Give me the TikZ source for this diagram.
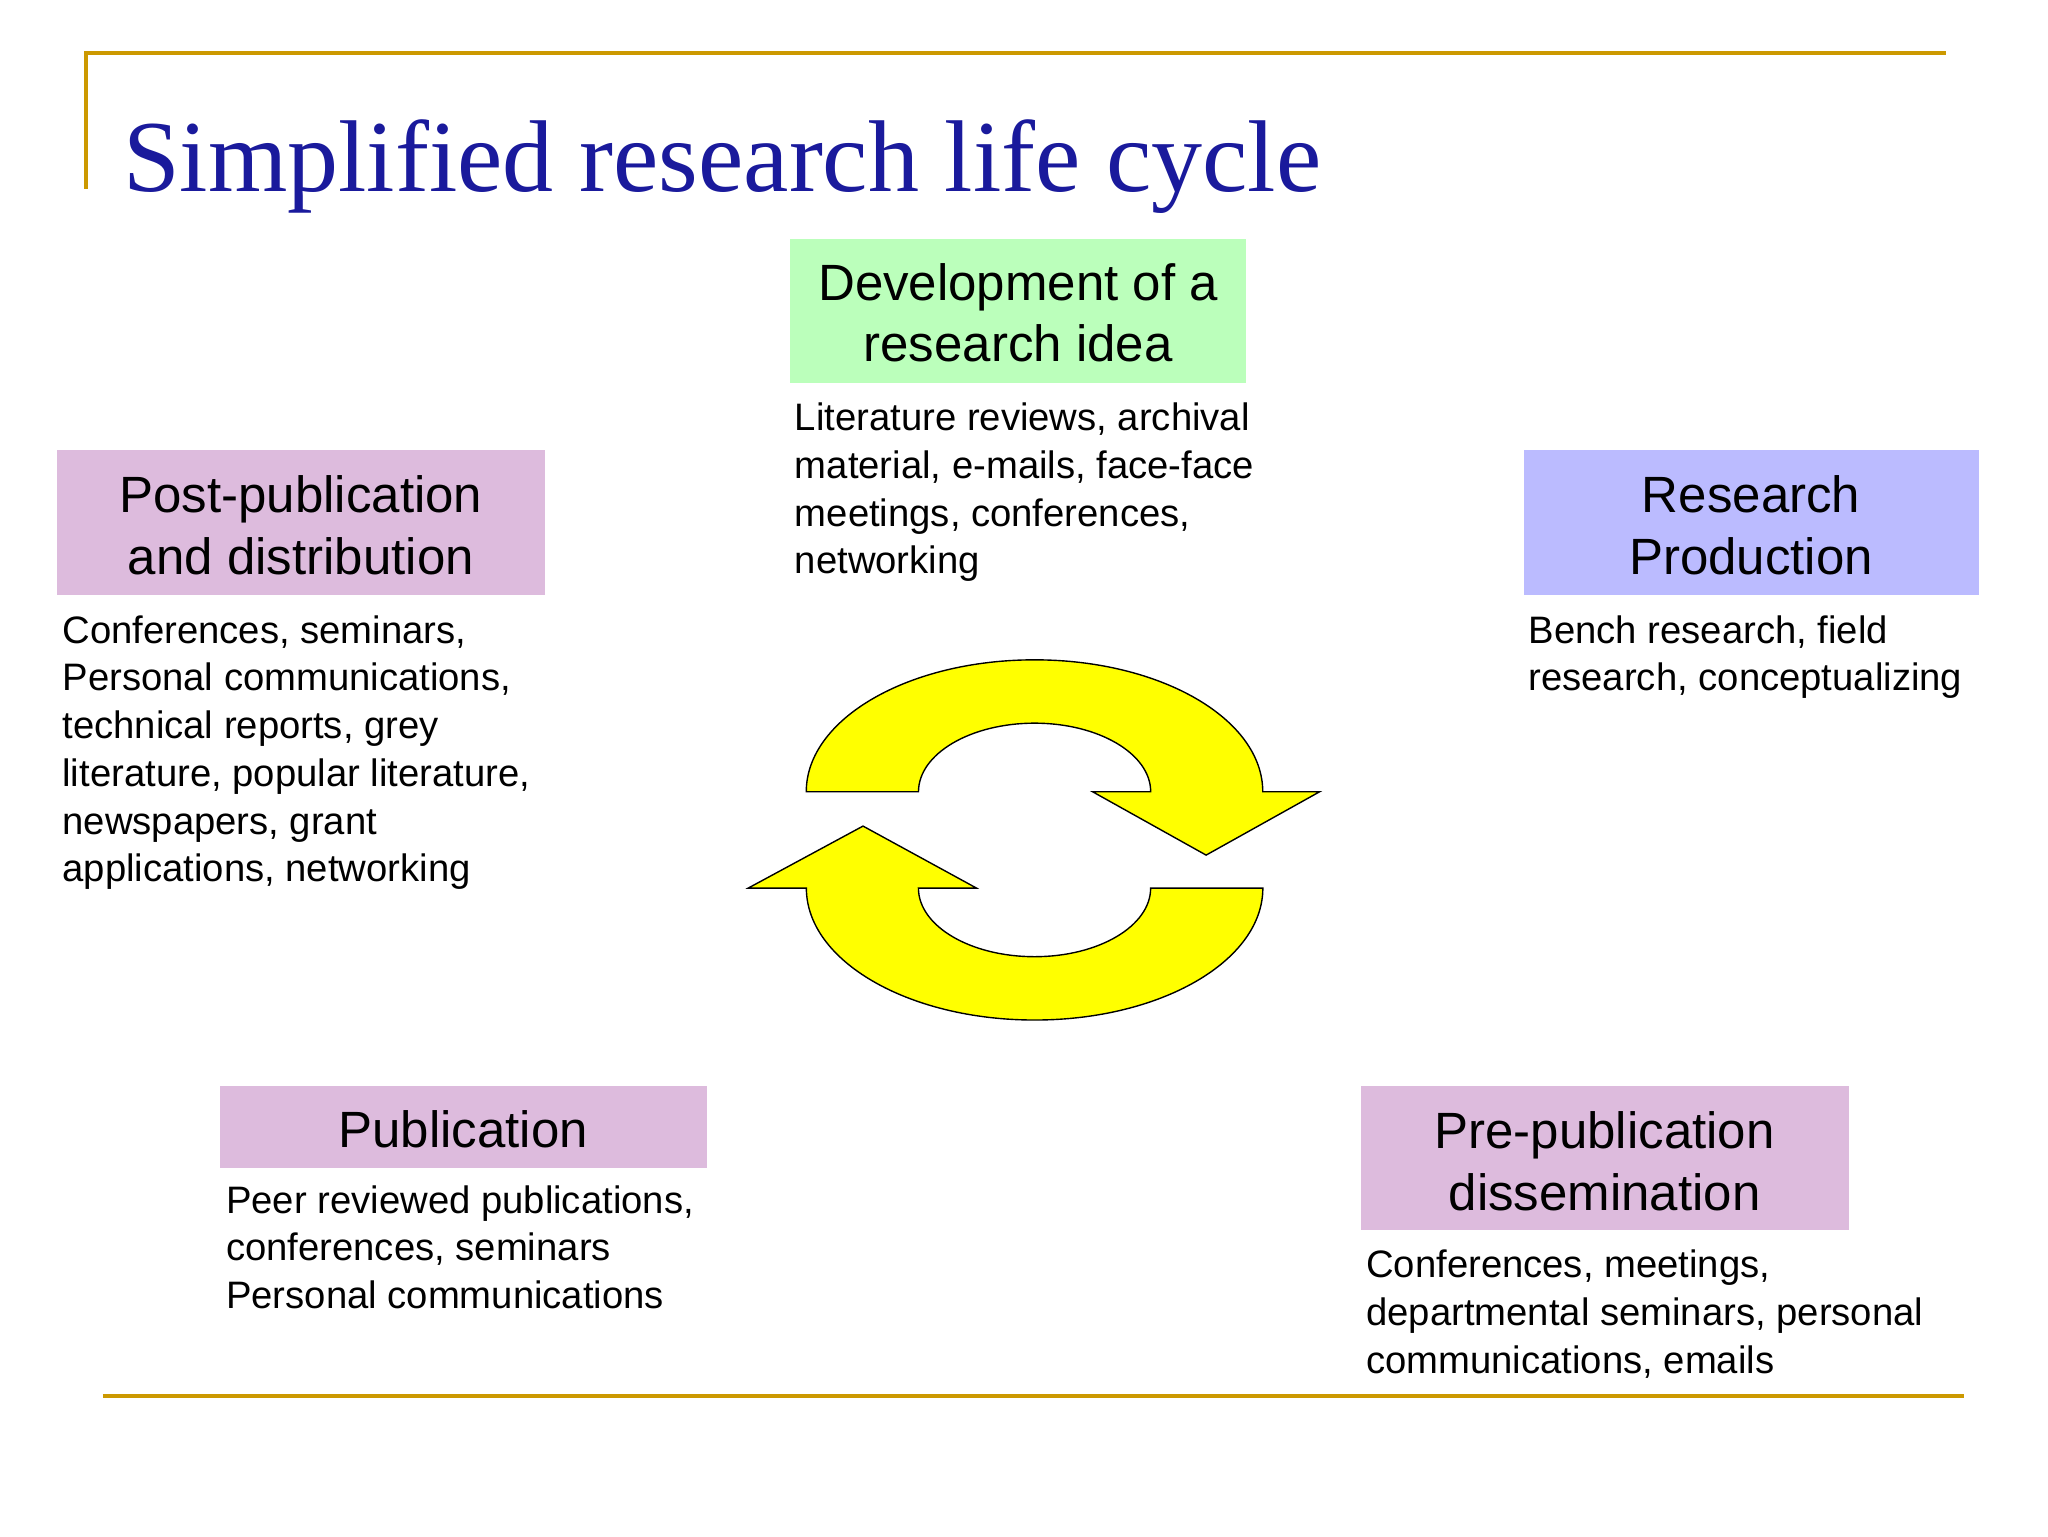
\documentclass[tikz,border=0pt]{standalone}
\usepackage{fontspec}
\setmainfont{Liberation Sans}
\newfontfamily\titlefont{Liberation Serif}
\definecolor{gold}{HTML}{CC9900}
\definecolor{titleblue}{HTML}{1A1A9C}
\definecolor{boxgreen}{HTML}{BBFFBB}
\definecolor{boxpink}{HTML}{DDBBDD}
\definecolor{boxblue}{HTML}{BBBBFF}
\definecolor{arrowyellow}{HTML}{FFFF00}
\begin{document}
\begin{tikzpicture}[x=0.02cm,y=0.02cm,
  head/.style={anchor=north west,inner sep=0pt,align=center,font=\fontsize{22}{26.6}\selectfont},
  body/.style={anchor=north west,inner sep=0pt,align=left,font=\fontsize{16.5}{20.6}\selectfont},
  rule/.style={gold,line width=1.7pt}]
\useasboundingbox[fill=white] (0,0) rectangle (1552,-1164);
\coordinate (tl) at (65,-143); \coordinate (tc) at (65,-40); \coordinate (tr) at (1475,-40);
\draw[rule] (tl) -- (tc) -- (tr);
\coordinate (bl) at (78,-1058); \coordinate (br) at (1488,-1058);
\draw[rule] (bl) -- (br);
\node[anchor=base west,inner sep=0pt,text=titleblue,font=\titlefont\fontsize{44}{50}\selectfont] (title) at (93,-145) {Simplified research life cycle};
% boxes
\fill[boxgreen] (599,-181) rectangle (944,-290);
\node[head] (dev) at (599,-181) {}; \node[align=center,inner sep=0pt,font=\fontsize{22}{26.6}\selectfont] (devt) at (771.5,-237) {Development of a\\research idea};
\fill[boxpink] (43,-341) rectangle (413,-451);
\node[align=center,inner sep=0pt,font=\fontsize{22}{26.6}\selectfont] (post) at (228,-398) {Post-publication\\and distribution};
\fill[boxblue] (1155,-341) rectangle (1500,-451);
\node[align=center,inner sep=0pt,font=\fontsize{22}{26.6}\selectfont] (prod) at (1327,-398) {Research\\Production};
\fill[boxpink] (167,-823) rectangle (536,-885);
\node[align=center,inner sep=0pt,font=\fontsize{22}{26.6}\selectfont] (pub) at (351,-856) {Publication};
\fill[boxpink] (1031,-823) rectangle (1401,-932);
\node[align=center,inner sep=0pt,font=\fontsize{22}{26.6}\selectfont] (pre) at (1216,-880) {Pre-publication\\dissemination};
% body texts
\node[body] (devb) at (602,-305) {Literature reviews, archival\\material, e-mails, face-face\\meetings, conferences,\\networking};
\node[body] (postb) at (47,-466) {Conferences, seminars,\\Personal communications,\\technical reports, grey\\literature, popular literature,\\newspapers, grant\\applications, networking};
\node[body] (prodb) at (1158,-466) {Bench research, field\\research, conceptualizing};
\node[body] (pubb) at (171,-898) {Peer reviewed publications,\\conferences, seminars\\Personal communications};
\node[body] (preb) at (1035,-947) {Conferences, meetings,\\departmental seminars, personal\\communications, emails};
% cycle arrows
\draw[fill=arrowyellow,line width=0.6pt] (611,-600) arc[start angle=180,end angle=0,x radius=3.46cm,y radius=2cm]
  -- (1000,-600) -- (914,-648) -- (828,-600) -- (872,-600)
  arc[start angle=0,end angle=180,x radius=1.76cm,y radius=1.04cm] -- cycle;
\draw[fill=arrowyellow,line width=0.6pt] (957,-673) arc[start angle=0,end angle=-180,x radius=3.46cm,y radius=2cm]
  -- (567,-673) -- (654,-626) -- (740,-673) -- (696,-673)
  arc[start angle=180,end angle=360,x radius=1.76cm,y radius=1.04cm] -- cycle;
\end{tikzpicture}
\end{document}
